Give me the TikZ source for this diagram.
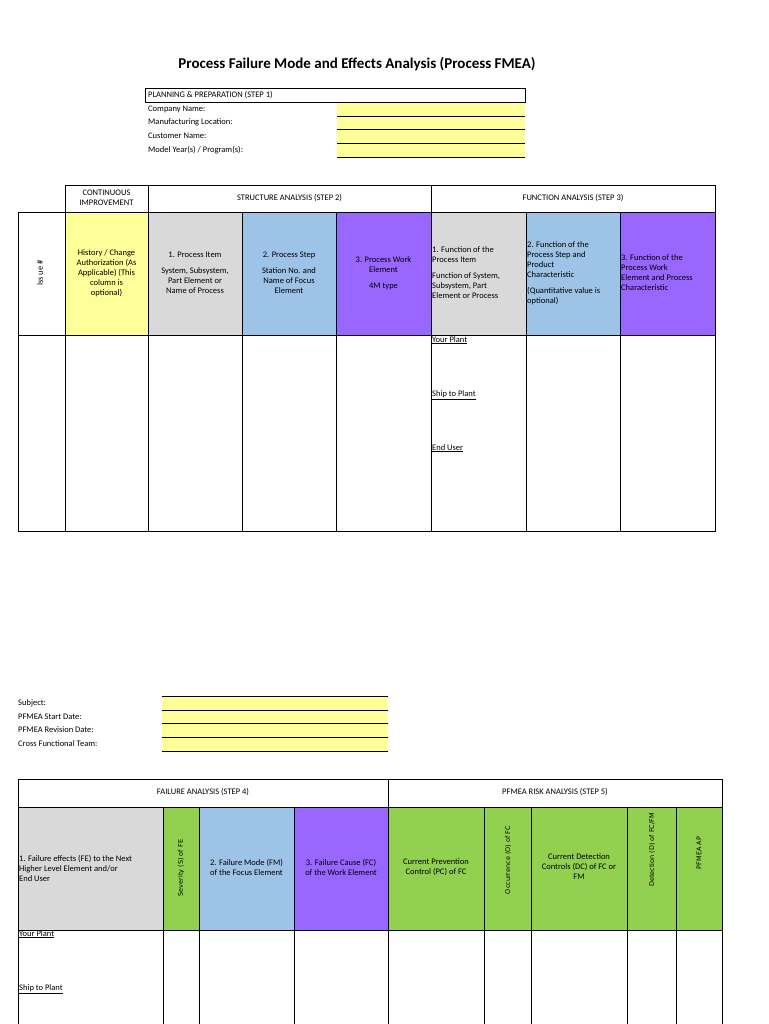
\documentclass[tikz,border=0pt]{standalone}
\usepackage{fontspec}
\setmainfont{Carlito}
\newfontfamily\rotfont{DejaVu Sans}
\definecolor{cyel}{HTML}{FFFF99}
\definecolor{cgray}{HTML}{D9D9D9}
\definecolor{cblue}{HTML}{9DC3E6}
\definecolor{cpur}{HTML}{9966FF}
\definecolor{cgrn}{HTML}{92D050}
\begin{document}
\begin{tikzpicture}[x=1pt,y=-1pt,
  txt/.style={font=\fontsize{8.5}{10}\selectfont,inner sep=0pt,align=center},
  ltxt/.style={font=\fontsize{8.5}{10}\selectfont,inner sep=0pt,align=left,anchor=west},
  rtxt/.style={font=\rotfont\fontsize{6.5}{8}\selectfont,inner sep=0pt,rotate=90},
  lab/.style={font=\fontsize{8.5}{10}\selectfont,inner sep=0pt,anchor=west},
  ul/.style={font=\fontsize{8.5}{10}\selectfont,inner sep=0pt,anchor=north west},
  grid/.style={draw=black,line width=0.6pt}]
\useasboundingbox (0,0) rectangle (768,1024);
\fill[white] (0,0) rectangle (768,1024);
\node[font=\bfseries\fontsize{15}{18}\selectfont] (title) at (357,64) {Process Failure Mode and Effects Analysis (Process FMEA)};
% planning
\fill[cyel] (337,102) rectangle (525,157);
\foreach \y in {116,129,143,157} \draw[grid] (337,\y) -- (525,\y);
\draw[grid] (145,88) rectangle (525,102);
\node[lab] (plan) at (148,95) {PLANNING \& PREPARATION (STEP 1)};
\node[lab] (cn) at (148,109) {Company Name:};
\node[lab] (ml) at (148,122) {Manufacturing Location:};
\node[lab] (cu) at (148,136) {Customer Name:};
\node[lab] (my) at (148,150) {Model Year(s) / Program(s):};
% top table fills
\fill[cyel] (65,212) rectangle (148,335);
\fill[cgray] (148,212) rectangle (242,335);
\fill[cblue] (242,212) rectangle (336,335);
\fill[cpur] (336,212) rectangle (431,335);
\fill[cgray] (431,212) rectangle (526,335);
\fill[cblue] (526,212) rectangle (620,335);
\fill[cpur] (620,212) rectangle (715,335);
\draw[grid] (65,185) rectangle (715,212);
\draw[grid] (148,185) -- (148,212) (431,185) -- (431,212);
\draw[grid] (18,212) rectangle (715,531);
\draw[grid] (18,335) -- (715,335);
\foreach \x in {65,148,242,336,431,526,620} \draw[grid] (\x,212) -- (\x,531);
\node[txt] (ci) at (106.5,198) {CONTINUOUS\\IMPROVEMENT};
\node[txt] (sa) at (289.5,198) {STRUCTURE ANALYSIS (STEP 2)};
\node[txt] (fa) at (573,198) {FUNCTION ANALYSIS (STEP 3)};
\node[rtxt,font=\fontsize{8.5}{10}\selectfont] (iss) at (40,273) {Iss ue \#};
\node[txt] (hc) at (106.5,273) {History / Change\\Authorization (As\\Applicable) (This\\column is\\optional)};
\node[txt] (pi) at (195,273) {1. Process Item\\[6pt]System, Subsystem,\\Part Element or\\Name of Process};
\node[txt] (ps) at (289,273) {2. Process Step\\[6pt]Station No. and\\Name of Focus\\Element};
\node[txt] (pw) at (383.5,273) {3. Process Work\\Element\\[6pt]4M type};
\node[ltxt] (f1) at (432,273) {1. Function of the\\Process Item\\[6pt]Function of System,\\Subsystem, Part\\Element or Process};
\node[ltxt] (f2) at (527,273) {2. Function of the\\Process Step and\\Product\\Characteristic\\[6pt](Quantitative value is\\optional)};
\node[ltxt] (f3) at (621,273) {3. Function of the\\Process Work\\Element and Process\\Characteristic};
\node[ul] (yp1) at (432,336) {\underline{Your Plant}};
\node[ul] (sp1) at (432,390) {\underline{Ship to Plant}};
\node[ul] (eu1) at (432,444) {\underline{End User}};
% subject
\fill[cyel] (162,696) rectangle (388,751);
\foreach \y in {696,710,723,737,751} \draw[grid] (162,\y) -- (388,\y);
\node[lab] (sub) at (18,703) {Subject:};
\node[lab] (psd) at (18,717) {PFMEA Start Date:};
\node[lab] (prd) at (18,730) {PFMEA Revision Date:};
\node[lab] (cft) at (18,744) {Cross Functional Team:};
% bottom table
\fill[cgray] (18,807) rectangle (163,930);
\fill[cgrn] (163,807) rectangle (199,930);
\fill[cblue] (199,807) rectangle (294,930);
\fill[cpur] (294,807) rectangle (388,930);
\fill[cgrn] (388,807) rectangle (722,930);
\draw[grid] (18,1024) -- (18,779) -- (722,779) -- (722,1024);
\draw[grid] (18,807) -- (722,807) (18,930) -- (722,930) (388,779) -- (388,807);
\foreach \x in {163,199,294,388,484,531,627,676} \draw[grid] (\x,807) -- (\x,1024);
\node[txt] (fa4) at (203,792) {FAILURE ANALYSIS (STEP 4)};
\node[txt] (ra5) at (555,792) {PFMEA RISK ANALYSIS (STEP 5)};
\node[ltxt] (fe) at (19,868) {1. Failure effects (FE) to the Next\\Higher Level Element and/or\\End User};
\node[rtxt] (sev) at (181,868) {Severity (S) of FE};
\node[txt] (fm) at (246.5,867) {2. Failure Mode (FM)\\of the Focus Element};
\node[txt] (fc) at (341,867) {3. Failure Cause (FC)\\of the Work Element};
\node[txt] (pc) at (436,867) {Current Prevention\\Control (PC) of FC};
\node[rtxt] (occ) at (508,860) {Occurrence (O) of FC};
\node[txt] (dc) at (579,867) {Current Detection\\Controls (DC) of FC or\\FM};
\node[rtxt] (det) at (652,850) {Detection (D) of FC/FM};
\node[rtxt] (ap) at (699,853) {PFMEA AP};
\node[ul] (yp2) at (19,930) {\underline{Your Plant}};
\node[ul] (sp2) at (19,984) {\underline{Ship to Plant}};
\end{tikzpicture}
\end{document}
